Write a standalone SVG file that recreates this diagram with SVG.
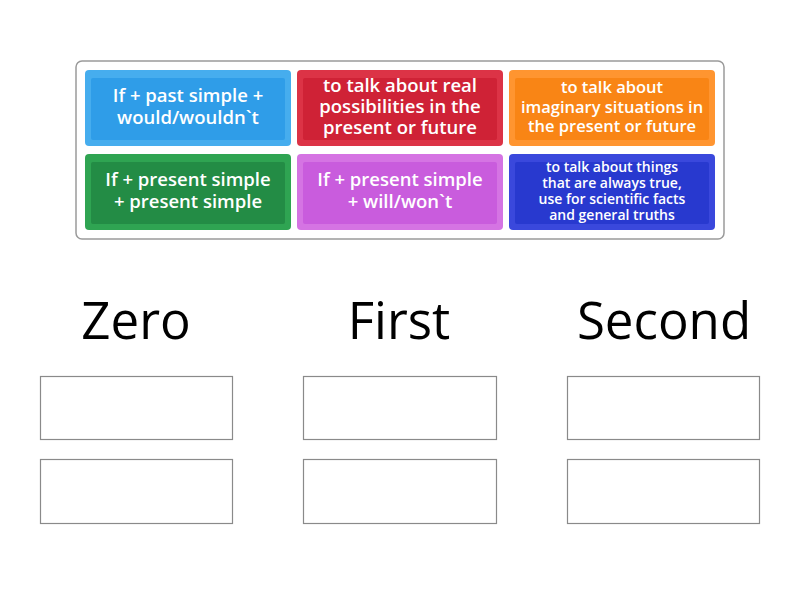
<svg xmlns="http://www.w3.org/2000/svg" width="800" height="600" viewBox="0 0 800 600">
<style>
.t{font-family:"Open Sans","Noto Sans",sans-serif;font-weight:600;fill:#fff;text-anchor:middle}
.h{font-family:"Open Sans","Noto Sans",sans-serif;font-size:51px;fill:#000;text-anchor:middle}
.slot{fill:#fff;stroke:#8a8a8a;stroke-width:1.2}
</style>
<rect width="800" height="600" fill="#fff"/>
<rect x="76" y="61" width="648" height="178" rx="6" fill="#fff" stroke="#9a9a9a" stroke-width="1.5"/>
<g id="tile1"><rect x="85" y="70" width="206" height="76" rx="4" fill="#46adee"/><rect x="91" y="78" width="194" height="62" rx="2" fill="#2f9de8"/>
<text class="t" font-size="18.5"><tspan x="188" y="102">If + past simple +</tspan><tspan x="188" y="124">would/wouldn`t</tspan></text></g>
<g id="tile2"><rect x="297" y="70" width="206" height="76" rx="4" fill="#dc3346"/><rect x="303" y="78" width="194" height="62" rx="2" fill="#cf2236"/>
<text class="t" font-size="18.5"><tspan x="400" y="92">to talk about real</tspan><tspan x="400" y="113">possibilities in the</tspan><tspan x="400" y="134">present or future</tspan></text></g>
<g id="tile3"><rect x="509" y="70" width="206" height="76" rx="4" fill="#ff9530"/><rect x="515" y="78" width="194" height="62" rx="2" fill="#f98515"/>
<text class="t" font-size="16.5"><tspan x="612" y="93">to talk about</tspan><tspan x="612" y="113">imaginary situations in</tspan><tspan x="612" y="132">the present or future</tspan></text></g>
<g id="tile4"><rect x="85" y="154" width="206" height="76" rx="4" fill="#2fa452"/><rect x="91" y="162" width="194" height="62" rx="2" fill="#238c45"/>
<text class="t" font-size="18.5"><tspan x="188" y="186">If + present simple</tspan><tspan x="188" y="208">+ present simple</tspan></text></g>
<g id="tile5"><rect x="297" y="154" width="206" height="76" rx="4" fill="#d574e3"/><rect x="303" y="162" width="194" height="62" rx="2" fill="#c95cdd"/>
<text class="t" font-size="18.5"><tspan x="400" y="186">If + present simple</tspan><tspan x="400" y="208">+ will/won`t</tspan></text></g>
<g id="tile6"><rect x="509" y="154" width="206" height="76" rx="4" fill="#3a48dc"/><rect x="515" y="162" width="194" height="62" rx="2" fill="#2839cf"/>
<text class="t" font-size="14"><tspan x="612" y="172">to talk about things</tspan><tspan x="612" y="188">that are always true,</tspan><tspan x="612" y="204">use for scientific facts</tspan><tspan x="612" y="220">and general truths</tspan></text></g>
<g id="col-zero"><text class="h" x="136" y="339">Zero</text><rect class="slot" x="40.5" y="376.5" width="192" height="63"/><rect class="slot" x="40.5" y="459.5" width="192" height="64"/></g>
<g id="col-first"><text class="h" x="399" y="339">First</text><rect class="slot" x="303.5" y="376.5" width="193" height="63"/><rect class="slot" x="303.5" y="459.5" width="193" height="64"/></g>
<g id="col-second"><text class="h" x="664" y="339">Second</text><rect class="slot" x="567.5" y="376.5" width="192" height="63"/><rect class="slot" x="567.5" y="459.5" width="192" height="64"/></g>
<g id="connectors"/>
</svg>
